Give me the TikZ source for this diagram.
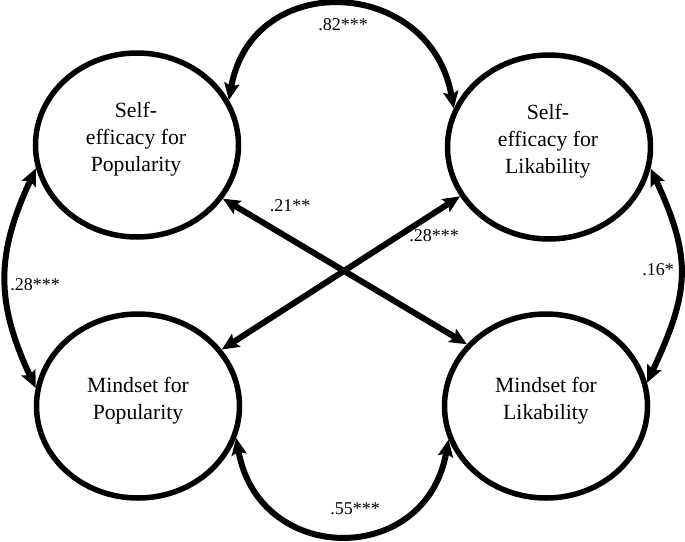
\documentclass[tikz,border=0pt]{standalone}
\usepackage{fontspec}
\setmainfont{Liberation Serif}
\usetikzlibrary{shapes.geometric,arrows.meta}
\begin{document}
\begin{tikzpicture}[x=1pt,y=1pt,
  latent/.style={draw, ellipse, line width=5.5pt, minimum width=203pt, minimum height=184pt, inner sep=0pt},
  ntext/.style={align=center, font=\fontsize{21.7pt}{27pt}\selectfont, inner sep=0pt},
  coef/.style={font=\fontsize{18pt}{20pt}\selectfont, inner sep=0pt},
  cov/.style={line width=6pt, >={Stealth[length=17pt,width=15pt,inset=3pt]}, <->}]
\useasboundingbox (0,0) rectangle (685,-541);
\node[latent] (sp) at (137,-145) {};
\node[latent] (sl) at (549,-147) {};
\node[latent] (mp) at (138,-406) {};
\node[latent] (ml) at (546,-406) {};
\node[ntext] (spt) at (136,-139) {Self-\\efficacy for\\Popularity};
\node[ntext] (slt) at (548,-141) {Self-\\efficacy for\\Likability};
\node[ntext] (mpt) at (138,-401) {Mindset for\\Popularity};
\node[ntext] (mlt) at (546,-401) {Mindset for\\Likability};
\draw[cov] (sp.26) .. controls +(80:134) and +(100:134) .. (sl.158);
\draw[cov] (sp.193) .. controls +(245:95) and +(115:95) .. (mp.170);
\draw[cov] (sl.348) .. controls +(-65:100) and +(65:100) .. (ml.13);
\draw[cov] (mp.342) .. controls +(-80:130) and +(-100:130) .. (ml.199);
\draw[cov] (sp.328) -- (ml.142);
\draw[cov] (mp.34) -- (sl.209);
\node[coef] (c82) at (343,-25) {.82***};
\node[coef] (c28a) at (35,-285) {.28***};
\node[coef] (c16) at (658,-270) {.16*};
\node[coef] (c55) at (355,-509) {.55***};
\node[coef] (c21) at (290,-206) {.21**};
\node[coef] (c28b) at (434,-236) {.28***};
\end{tikzpicture}
\end{document}
